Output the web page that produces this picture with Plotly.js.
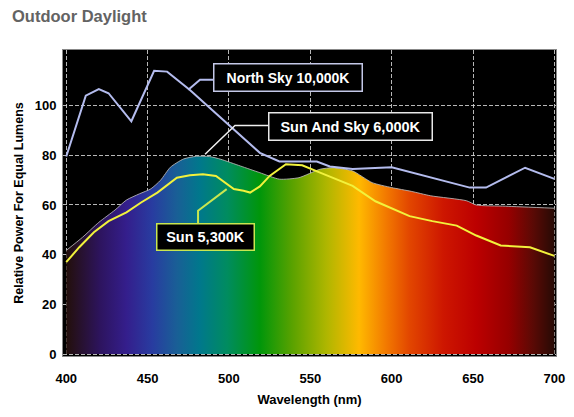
<!DOCTYPE html>
<html>
<head>
<meta charset="utf-8">
<script src="https://cdn.plot.ly/plotly-3.0.1.min.js"></script>
<style>html,body{margin:0;padding:0;background:#fff;}#chart{width:574px;height:417px;}</style>
</head>
<body>
<div id="chart"></div>
<script>
// North Sky 10,000K
const northX = [400, 412, 420, 426, 440, 447, 454, 462, 476, 490, 505, 519, 531, 554, 562, 576, 600, 648, 658, 682, 700];
const northY = [79.5, 104, 106.7, 105, 93.7, 103.7, 114, 113.7, 106.3, 98, 89, 81, 77.5, 77.5, 75.5, 74.5, 75.2, 67, 67, 75, 70.5];

// Sun And Sky 6,000K (spectrum fill)
const skyX = [400, 410, 420, 430, 437, 445, 452, 458, 464, 472, 480, 488, 495, 507, 519, 531, 543, 556, 564, 576, 588, 600, 612, 624, 646, 652, 670, 700];
const skyY = [41.7, 47, 53, 58, 62, 64.5, 66.5, 70, 75.2, 78.5, 79.6, 79.5, 78.4, 75.7, 73, 70.4, 71, 74.4, 75, 73.7, 69, 67, 65.5, 63.7, 61.7, 60, 59.5, 58.7];

// Sun 5,300K
const sunX = [400, 408, 417, 426, 437, 446, 456, 468, 476, 484, 492, 503, 509, 513, 519, 525, 535, 545, 556, 566, 576, 590, 600, 611, 625, 640, 652, 667, 685, 700];
const sunY = [37, 43, 49, 53.5, 57, 61, 65, 71, 72, 72.4, 71.7, 66.4, 65.7, 65, 67.5, 71.7, 76.4, 76, 73, 70.5, 67.7, 61.5, 58.5, 55.5, 53.5, 51.7, 47.7, 43.7, 43, 39.5];

// visible spectrum colours by wavelength (nm)
const spectrumNm = [400, 421, 437, 453, 468, 482, 499, 519, 539, 560, 580, 597, 611, 632, 652, 672, 687, 700];
const spectrumColors = ['rgb(35,15,10)', 'rgb(45,20,95)', 'rgb(52,30,140)', 'rgb(40,60,160)', 'rgb(25,95,150)', 'rgb(0,120,140)', 'rgb(0,140,95)', 'rgb(0,150,10)', 'rgb(90,162,0)', 'rgb(175,182,0)', 'rgb(255,185,0)', 'rgb(242,120,0)', 'rgb(226,70,0)', 'rgb(205,22,0)', 'rgb(188,0,0)', 'rgb(150,0,0)', 'rgb(90,10,5)', 'rgb(38,10,5)'];

const xTicks = [400, 450, 500, 550, 600, 650, 700];
const yTicks = [0, 20, 40, 60, 80, 100];

const colorscale = spectrumNm.map((nm, i) => [(nm - 400) / 300, spectrumColors[i]]);

const traces = [
  {
    x: skyX, y: skyY, type: 'scatter', mode: 'lines', name: 'Sun And Sky 6,000K',
    fill: 'tozeroy', line: {color: 'rgba(185,185,185,0.85)', width: 1, shape: 'spline', smoothing: 0.6},
    fillgradient: {type: 'horizontal', colorscale: colorscale, start: 400, stop: 700},
    hoverinfo: 'skip'
  },
  {
    x: northX, y: northY, type: 'scatter', mode: 'lines', name: 'North Sky 10,000K',
    line: {color: '#b4bcee', width: 2}
  },
  {
    x: sunX, y: sunY, type: 'scatter', mode: 'lines', name: 'Sun 5,300K',
    line: {color: '#f2f23c', width: 2}
  }
];

const labelFont = {family: 'Liberation Sans, Arial, sans-serif', size: 14.5, color: '#ffffff', weight: 'bold'};

const layout = {
  width: 574, height: 417,
  paper_bgcolor: '#ffffff', plot_bgcolor: '#000000',
  margin: {l: 63, r: 18, t: 50, b: 61, pad: 0},
  showlegend: false,
  font: {family: 'Liberation Sans, Arial, sans-serif', color: '#000'},
  title: {
    text: 'Outdoor Daylight',
    font: {family: 'Liberation Sans, Arial, sans-serif', size: 16.5, color: '#636363', weight: 'bold'},
    xref: 'container', yref: 'container', x: 12 / 574, xanchor: 'left', y: 1 - 16 / 417, yanchor: 'middle'
  },
  xaxis: {
    range: [398, 701], tickvals: xTicks, ticktext: xTicks.map(String),
    showgrid: true, gridcolor: 'rgba(215,215,215,0.85)', griddash: '4px,2px', gridwidth: 1,
    zeroline: false, showline: true, linecolor: '#888', linewidth: 1, mirror: true,
    ticks: '', ticklabelstandoff: 10, tickfont: {size: 13, weight: 'bold', color: '#000'},
    title: {text: 'Wavelength (nm)', font: {size: 13, weight: 'bold', color: '#000'}, standoff: 10}
  },
  yaxis: {
    range: [-0.8, 122.4], tickvals: yTicks, ticktext: yTicks.map(String),
    showgrid: true, gridcolor: 'rgba(215,215,215,0.85)', griddash: '4px,2px', gridwidth: 1,
    zeroline: false, showline: true, linecolor: '#888', linewidth: 1, mirror: true,
    ticks: '', ticklabelstandoff: 3, tickfont: {size: 13, weight: 'bold', color: '#000'},
    title: {text: 'Relative Power For Equal Lumens', font: {size: 12.5, weight: 'bold', color: '#000'}, standoff: 8}
  },
  shapes: [
    {type: 'path', xref: 'x', yref: 'y', path: 'M475,106.4 L482.2,110.4 L490.2,110.4', line: {color: '#b4bcee', width: 2}},
    {type: 'path', xref: 'x', yref: 'y', path: 'M485.3,80.4 L503.7,92 L524.6,92', line: {color: '#f0f0f0', width: 1.5}},
    {type: 'path', xref: 'x', yref: 'y', path: 'M498.6,66.4 L481,57.7 L481,52.4', line: {color: '#c8e650', width: 2}}
  ],
  annotations: [
    {x: 536, y: 111.2, xref: 'x', yref: 'y', text: 'North Sky 10,000K', showarrow: false,
     font: Object.assign({}, labelFont, {size: 14}), bgcolor: '#000', bordercolor: '#c4c8e8', borderwidth: 1.5,
     width: 145, height: 24, borderpad: 1},
    {x: 575, y: 91.6, xref: 'x', yref: 'y', text: 'Sun And Sky 6,000K', showarrow: false,
     font: labelFont, bgcolor: '#000', bordercolor: '#e8e8e8', borderwidth: 1.5,
     width: 160, height: 24, borderpad: 1},
    {x: 485.3, y: 47.2, xref: 'x', yref: 'y', text: 'Sun 5,300K', showarrow: false,
     font: labelFont, bgcolor: '#000', bordercolor: '#c8e650', borderwidth: 1.5,
     width: 94, height: 23, borderpad: 1}
  ]
};

Plotly.newPlot('chart', traces, layout, {displayModeBar: false, staticPlot: true});
</script>
</body>
</html>
